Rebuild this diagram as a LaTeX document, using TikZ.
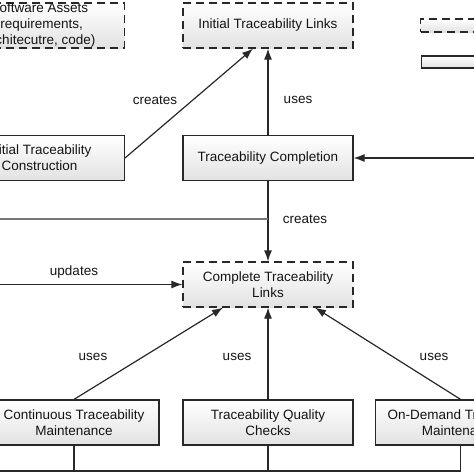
\documentclass[tikz,border=0pt]{standalone}
\usepackage{fontspec}
\setmainfont{Liberation Sans}
\usepackage{tikz}
\usetikzlibrary{
  arrows.meta,
  positioning,
  calc
}
\definecolor{bordercolor}{RGB}{40, 40, 40}
\definecolor{boxtop}{RGB}{255, 255, 255}
\definecolor{boxbottom}{RGB}{226, 226, 226}
\definecolor{labelcolor}{RGB}{20, 20, 20}
\definecolor{feedcolor}{RGB}{120, 120, 120}
\tikzset{
blocktext/.style={
  align=center,
  font=\fontsize{13.5}{16}\selectfont,
  text=labelcolor
},
processblock/.style={
  draw=bordercolor,
  line width=1.2pt,
  top color=boxtop,
  bottom color=boxbottom,
  minimum height=45pt,
  minimum width=170pt,
  inner sep=0pt,
  blocktext
},
artifactblock/.style={
  processblock,
  dash pattern=on 8pt off 5pt
},
edgelabel/.style={
  font=\fontsize{13.5}{16}\selectfont,
  text=labelcolor
},
arrow/.style={
  -{Latex[length=11pt,width=8pt]},
  line width=1.2pt,
  draw=bordercolor
},
connector/.style={
  line width=1.2pt,
  draw=bordercolor
},
feedline/.style={
  line width=1.2pt,
  draw=feedcolor
}
}

\begin{document}
\begin{tikzpicture}[x=1pt, y=-1pt]
        \useasboundingbox (0,0) rectangle (474,474);
        \clip (0,0) rectangle (474,474);

        \node[artifactblock, anchor=east] (assets) at (125,25.5) {Software Assets\\(requirements,\\architecutre, code)};
        \node[artifactblock] (initial) at (268,25.5) {Initial Traceability Links};
        \node[artifactblock, anchor=west, minimum width=60pt, minimum height=13pt] (legendartifact) at (420,25.5) {};
        \node[processblock, anchor=west, minimum width=60pt, minimum height=12pt] (legendprocess) at (421,62) {};

        \node[processblock, anchor=east] (construction) at (125,158) {Initial Traceability\\Construction};
        \node[processblock] (completion) at (268,158) {Traceability Completion};

        \node[artifactblock] (complete) at (268,284.5) {Complete Traceability\\Links};

        \node[processblock] (continuous) at (74,422.5) {Continuous Traceability\\Maintenance};
        \node[processblock] (quality) at (268,422.5) {Traceability Quality\\Checks};
        \node[processblock, anchor=west] (ondemand) at (375,422.5) {On-Demand Traceability\\Maintenance};

        \coordinate (rightin) at (480,158);
        \coordinate (feedin) at (-5,219);
        \coordinate (updatein) at (-5,284.5);
        \coordinate (busleft) at (-5,471);

        \draw[arrow] (construction.east) -- ($(initial.south)+(-15,0)$);
        \draw[arrow] (completion.north) -- (initial.south);
        \draw[arrow] (rightin) -- (completion.east);
        \draw[arrow] (completion.south) -- (complete.north);
        \draw[feedline] (feedin) -- (feedin -| completion.south);
        \draw[arrow] (updatein) -- (complete.west);

        \draw[arrow] (continuous.north) -- ($(complete.south)+(-45,0)$);
        \draw[arrow] (quality.north) -- (complete.south);
        \draw[arrow] (ondemand.north) -- ($(complete.south)+(47,0)$);

        \draw[connector] (busleft) -| (continuous.south);
        \draw[connector] (continuous.south |- busleft) -| (ondemand.south);
        \draw[connector] (quality.south) -- (quality.south |- busleft);

        \node[edgelabel] (createsinitial) at (155,100) {creates};
        \node[edgelabel] (usesinitial) at (298,100) {uses};
        \node[edgelabel] (createscomplete) at (305,219) {creates};
        \node[edgelabel] (updatescomplete) at (74,272) {updates};
        \node[edgelabel] (usescontinuous) at (93,357) {uses};
        \node[edgelabel] (usesquality) at (237,357) {uses};
        \node[edgelabel] (usesondemand) at (434,357) {uses};
      \end{tikzpicture}
\end{document}
